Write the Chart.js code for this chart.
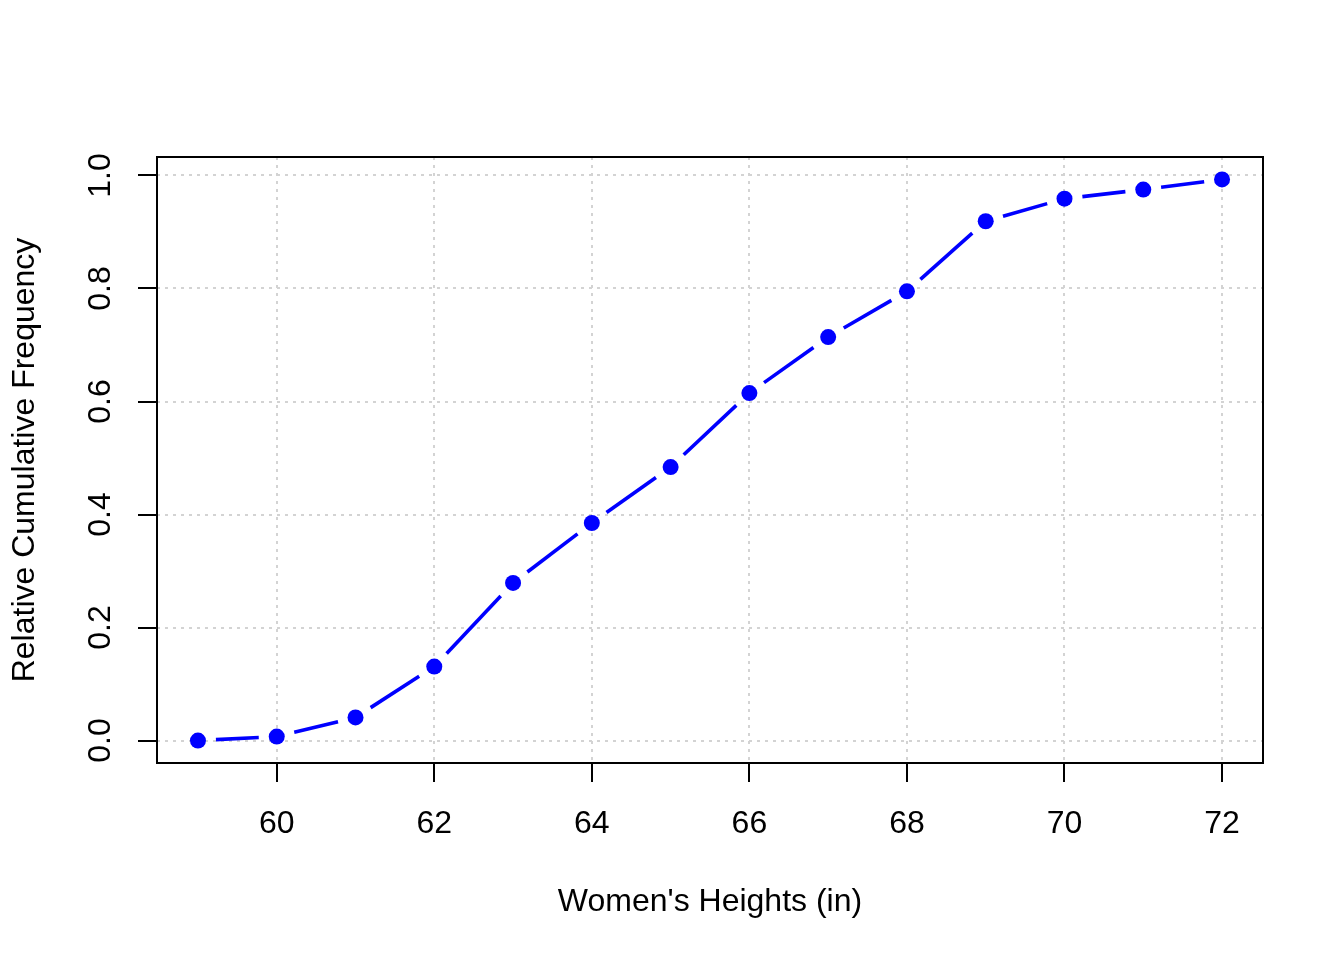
<!DOCTYPE html>
<html>
<head>
<meta charset="utf-8">
<script src="https://cdn.jsdelivr.net/npm/chart.js@4/dist/chart.umd.min.js"></script>
<style>
  html, body { margin: 0; padding: 0; background: #fff; }
  #wrap { width: 1344px; height: 960px; }
</style>
</head>
<body>
<div id="wrap"><canvas id="chart" width="1344" height="960"></canvas></div>
<script>
// women's heights (in) vs relative cumulative frequency
const heights = [59, 60, 61, 62, 63, 64, 65, 66, 67, 68, 69, 70, 71, 72];
const cumFreq = [0.0, 0.007, 0.041, 0.131, 0.279, 0.385, 0.484, 0.615, 0.714, 0.795, 0.919, 0.959, 0.975, 0.993];
const xTicks = [60, 62, 64, 66, 68, 70, 72];
const yTicks = [0.0, 0.2, 0.4, 0.6, 0.8, 1.0];

const FONT = { family: "'Liberation Sans', Arial, sans-serif", size: 32 };

// R type="b": line segments with a gap around every point
const gappedLine = {
  id: "gappedLine",
  beforeDatasetsDraw(chart) {
    const ctx = chart.ctx;
    const pts = chart.getDatasetMeta(0).data;
    const gap = 18;
    ctx.save();
    ctx.strokeStyle = "#0000ff";
    ctx.lineWidth = 3.6;
    ctx.lineCap = "butt";
    for (let i = 0; i < pts.length - 1; i++) {
      const a = pts[i], b = pts[i + 1];
      const dx = b.x - a.x, dy = b.y - a.y;
      const len = Math.hypot(dx, dy);
      if (len <= 2 * gap) continue;
      const ux = dx / len, uy = dy / len;
      ctx.beginPath();
      ctx.moveTo(a.x + ux * gap, a.y + uy * gap);
      ctx.lineTo(b.x - ux * gap, b.y - uy * gap);
      ctx.stroke();
    }
    ctx.restore();
  },
};

// full box around the plot region
const plotBox = {
  id: "plotBox",
  afterDraw(chart) {
    const { left, top, width, height } = chart.chartArea;
    const ctx = chart.ctx;
    ctx.save();
    ctx.strokeStyle = "#000";
    ctx.lineWidth = 2;
    ctx.strokeRect(left, top, width, height);
    ctx.restore();
  },
};

const gridOpts = {
  color: "#d3d3d3",
  lineWidth: 2,
  drawTicks: true,
  tickLength: 19,
  tickColor: "#000",
  tickWidth: 2,
  tickBorderDash: [],
};

new Chart(document.getElementById("chart"), {
  type: "scatter",
  data: {
    datasets: [
      {
        data: heights.map((h, i) => ({ x: h, y: cumFreq[i] })),
        showLine: false,
        pointRadius: 8,
        pointHoverRadius: 8,
        pointBackgroundColor: "#0000ff",
        pointBorderWidth: 0,
      },
    ],
  },
  options: {
    responsive: false,
    animation: false,
    events: [],
    layout: { padding: { top: 157, right: 81, left: 0, bottom: 0 } },
    plugins: { legend: { display: false }, tooltip: { enabled: false } },
    scales: {
      x: {
        type: "linear",
        min: 58.48,
        max: 72.52,
        afterBuildTicks: (s) => { s.ticks = xTicks.map((v) => ({ value: v })); },
        afterFit: (s) => { s.height = 960 - 763; },
        grid: gridOpts,
        border: { display: false, dash: [3, 5] },
        ticks: { color: "#000", font: FONT, padding: 23, maxRotation: 0, callback: (v) => String(v) },
        title: { display: true, text: "Women's Heights (in)", color: "#000", font: FONT, padding: { top: 0, bottom: 39 } },
      },
      y: {
        type: "linear",
        min: -0.0397,
        max: 1.0327,
        afterBuildTicks: (s) => { s.ticks = yTicks.map((v) => ({ value: v })); },
        afterFit: (s) => { s.width = 157; },
        grid: gridOpts,
        border: { display: false, dash: [3, 5] },
        ticks: { color: "#000", font: FONT, padding: 15, minRotation: 90, maxRotation: 90, crossAlign: "center", callback: (v) => v.toFixed(1) },
        title: { display: true, text: "Relative Cumulative Frequency", color: "#000", font: FONT, padding: { top: 6, bottom: 0 } },
      },
    },
  },
  plugins: [gappedLine, plotBox],
});
</script>
</body>
</html>
